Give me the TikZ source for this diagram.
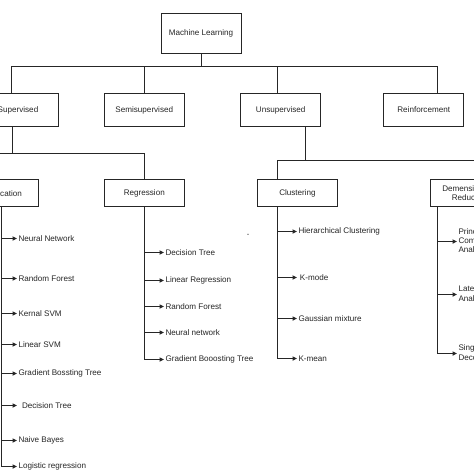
\documentclass[tikz,border=0pt]{standalone}
\usepackage{fontspec}
\setmainfont{Liberation Sans}
\usetikzlibrary{arrows.meta}
\begin{document}
\begin{tikzpicture}[x=1pt,y=-1pt,black!85,line width=1pt,
    box/.style={draw,minimum width=80pt,minimum height=26.7pt,inner sep=1pt,
      align=center,font=\fontsize{8.1}{9.3}\selectfont},
    leaf/.style={anchor=west,inner sep=1pt,align=left,font=\fontsize{8.1}{9.3}\selectfont},
    arr/.style={-{Triangle[length=4.5pt,width=4.2pt]}}]
    \useasboundingbox (0,0) rectangle (474,474);
    \fill [white] (0,0) rectangle (474,474);
    \clip (0,0) rectangle (474,474);
    % boxes
    \node [box,minimum height=40pt] (ml) at (201,33.3) {Machine Learning};
    \node [box,minimum height=33.5pt] (sup) at (18,110) {Supervised};
    \node [box,minimum height=33.5pt] (semi) at (144.3,110) {Semisupervised};
    \node [box,minimum height=33.5pt] (uns) at (280.7,110) {Unsupervised};
    \node [box,minimum height=33.5pt] (rl) at (423.7,110) {Reinforcement};
    \node [box] (cls) at (-2,193.3) {Classification};
    \node [box] (reg) at (144.3,193.3) {Regression};
    \node [box] (clu) at (297.5,193.3) {Clustering};
    \node [box] (dim) at (470,193.3) {Demensionality\\Reduction};
    % top bus
    \coordinate (b1) at (11.5,66.5);
    \coordinate (b2) at (144.5,66.5);
    \coordinate (b3) at (277.5,66.5);
    \coordinate (b4) at (437.5,66.5);
    \draw (ml) -- (ml |- b1);
    \draw (b1 |- sup.north) -- (b1) -- (b4) -- (b4 |- rl.north);
    \draw (b2) -- (b2 |- semi.north);
    \draw (b3) -- (b3 |- uns.north);
    % supervised
    \coordinate (s0) at (12.5,153.5);
    \coordinate (s1) at (-2,153.5);
    \coordinate (s2) at (144.5,153.5);
    \draw (s0 |- sup.south) -- (s0);
    \draw (s1 |- cls.north) -- (s1) -- (s2) -- (s2 |- reg.north);
    % unsupervised
    \coordinate (u0) at (305.5,160.5);
    \coordinate (u1) at (277.5,160.5);
    \coordinate (u2) at (490,160.5);
    \draw (u0 |- uns.south) -- (u0);
    \draw (u1 |- clu.north) -- (u1) -- (u2) -- (u2 |- dim.north);
    % classification
    \coordinate (cs) at (1,0);
    \foreach \y/\t [count=\i] in {238.5/Neural Network,278.5/Random Forest,313.5/Kernal SVM,
        344.5/Linear SVM,373.5/Gradient Bossting Tree,405.5/\hspace{3.5pt}Decision Tree,
        440.5/Naive Bayes,466.5/Logistic regression} {
        \node [leaf] (cl\i) at (17,\y) {\t};
        \draw [arr] (cl\i.west -| cs) -- (cl\i.west);
    }
    \draw (cs |- cls.south) -- (cs |- cl8.west);
    % regression
    \foreach \y/\t [count=\i] in {252.5/Decision Tree,280.5/Linear Regression,306.5/Random Forest,
        332.5/Neural network,359.5/Gradient Booosting Tree} {
        \node [leaf] (rg\i) at (164,\y) {\t};
        \draw [arr] (rg\i.west -| reg.south) -- (rg\i.west);
    }
    \draw (reg.south) -- (reg.south |- rg5.west);
    % clustering
    \coordinate (ks) at (277.5,0);
    \foreach \y/\t [count=\i] in {231.5/Hierarchical Clustering,277.5/\hspace{1.4pt}K-mode,
        318.5/Gaussian mixture,358.5/K-mean} {
        \node [leaf] (cu\i) at (297,\y) {\t};
        \draw [arr] (cu\i.west -| ks) -- (cu\i.west);
    }
    \draw (ks |- clu.south) -- (ks |- cu4.west);
    % dimensionality reduction
    \coordinate (ds) at (437.5,0);
    \foreach \y/\t [count=\i] in {241.5/Principal\\Component\\Analysis,
        294.5/Latent Semantic\\Analysis,353.5/Singular Value\\Decomposition} {
        \node [leaf] (dr\i) at (457,\y) {\t};
        \draw [arr] (dr\i.west -| ds) -- (dr\i.west);
    }
    \draw (ds |- dim.south) -- (ds |- dr3.west);
    \fill (248,234.3) circle (0.6pt);
\end{tikzpicture}
\end{document}
